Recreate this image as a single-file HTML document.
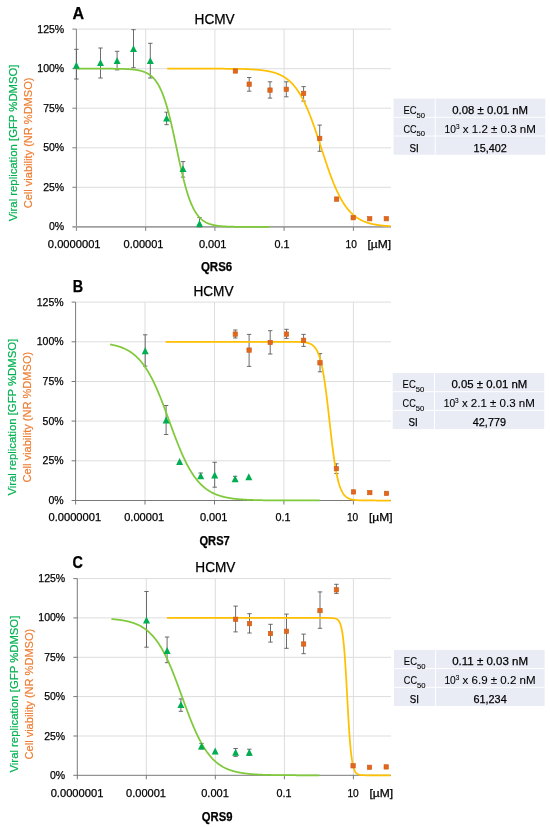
<!DOCTYPE html>
<html lang="en"><head><meta charset="utf-8"><title>HCMV dose-response QRS6 QRS7 QRS9</title>
<style>
html,body{margin:0;padding:0;background:#fff;}
svg{display:block;font-family:"Liberation Sans", sans-serif;}
</style></head><body>
<svg width="550" height="827" viewBox="0 0 550 827">
<rect width="550" height="827" fill="#ffffff"/>
<line x1="76.4" y1="187.3" x2="391.0" y2="187.3" stroke="#dddddd" stroke-width="1"/>
<line x1="76.4" y1="147.8" x2="391.0" y2="147.8" stroke="#dddddd" stroke-width="1"/>
<line x1="76.4" y1="108.2" x2="391.0" y2="108.2" stroke="#dddddd" stroke-width="1"/>
<line x1="76.4" y1="68.7" x2="391.0" y2="68.7" stroke="#dddddd" stroke-width="1"/>
<line x1="76.4" y1="29.1" x2="391.0" y2="29.1" stroke="#dddddd" stroke-width="1"/>
<line x1="145.7" y1="29.1" x2="145.7" y2="226.9" stroke="#dddddd" stroke-width="1"/>
<line x1="214.9" y1="29.1" x2="214.9" y2="226.9" stroke="#dddddd" stroke-width="1"/>
<line x1="284.1" y1="29.1" x2="284.1" y2="226.9" stroke="#dddddd" stroke-width="1"/>
<line x1="353.4" y1="29.1" x2="353.4" y2="226.9" stroke="#dddddd" stroke-width="1"/>
<line x1="76.4" y1="29.1" x2="76.4" y2="230.9" stroke="#808080" stroke-width="1.0"/>
<line x1="72.4" y1="226.9" x2="391.0" y2="226.9" stroke="#a0a0a0" stroke-width="1.6"/>
<line x1="72.4" y1="187.3" x2="76.4" y2="187.3" stroke="#808080" stroke-width="1.0"/>
<line x1="72.4" y1="147.8" x2="76.4" y2="147.8" stroke="#808080" stroke-width="1.0"/>
<line x1="72.4" y1="108.2" x2="76.4" y2="108.2" stroke="#808080" stroke-width="1.0"/>
<line x1="72.4" y1="68.7" x2="76.4" y2="68.7" stroke="#808080" stroke-width="1.0"/>
<line x1="72.4" y1="29.1" x2="76.4" y2="29.1" stroke="#808080" stroke-width="1.0"/>
<line x1="145.7" y1="226.9" x2="145.7" y2="230.9" stroke="#808080" stroke-width="1.0"/>
<line x1="214.9" y1="226.9" x2="214.9" y2="230.9" stroke="#808080" stroke-width="1.0"/>
<line x1="284.1" y1="226.9" x2="284.1" y2="230.9" stroke="#808080" stroke-width="1.0"/>
<line x1="353.4" y1="226.9" x2="353.4" y2="230.9" stroke="#808080" stroke-width="1.0"/>
<text x="64.2" y="230.4" font-size="11.1" text-anchor="end" fill="#000000" stroke="#000000" stroke-width="0.25" font-weight="normal" textLength="15.2" lengthAdjust="spacingAndGlyphs">0%</text>
<text x="64.2" y="190.8" font-size="11.1" text-anchor="end" fill="#000000" stroke="#000000" stroke-width="0.25" font-weight="normal" textLength="21.0" lengthAdjust="spacingAndGlyphs">25%</text>
<text x="64.2" y="151.3" font-size="11.1" text-anchor="end" fill="#000000" stroke="#000000" stroke-width="0.25" font-weight="normal" textLength="21.0" lengthAdjust="spacingAndGlyphs">50%</text>
<text x="64.2" y="111.7" font-size="11.1" text-anchor="end" fill="#000000" stroke="#000000" stroke-width="0.25" font-weight="normal" textLength="21.0" lengthAdjust="spacingAndGlyphs">75%</text>
<text x="64.2" y="72.2" font-size="11.1" text-anchor="end" fill="#000000" stroke="#000000" stroke-width="0.25" font-weight="normal" textLength="26.9" lengthAdjust="spacingAndGlyphs">100%</text>
<text x="64.2" y="32.6" font-size="11.1" text-anchor="end" fill="#000000" stroke="#000000" stroke-width="0.25" font-weight="normal" textLength="26.9" lengthAdjust="spacingAndGlyphs">125%</text>
<text x="74.2" y="248.2" font-size="10.8" text-anchor="middle" fill="#000000" stroke="#000000" stroke-width="0.25" font-weight="normal" textLength="52.7" lengthAdjust="spacingAndGlyphs">0.0000001</text>
<text x="143.5" y="248.2" font-size="10.8" text-anchor="middle" fill="#000000" stroke="#000000" stroke-width="0.25" font-weight="normal" textLength="40.0" lengthAdjust="spacingAndGlyphs">0.00001</text>
<text x="212.7" y="248.2" font-size="10.8" text-anchor="middle" fill="#000000" stroke="#000000" stroke-width="0.25" font-weight="normal" textLength="27.6" lengthAdjust="spacingAndGlyphs">0.001</text>
<text x="281.9" y="248.2" font-size="10.8" text-anchor="middle" fill="#000000" stroke="#000000" stroke-width="0.25" font-weight="normal" textLength="15.0" lengthAdjust="spacingAndGlyphs">0.1</text>
<text x="351.2" y="248.2" font-size="10.8" text-anchor="middle" fill="#000000" stroke="#000000" stroke-width="0.25" font-weight="normal" textLength="11.3" lengthAdjust="spacingAndGlyphs">10</text>
<text x="367.4" y="248.2" font-size="10.8" text-anchor="start" fill="#000000" stroke="#000000" stroke-width="0.25" font-weight="normal" textLength="23.6" lengthAdjust="spacingAndGlyphs">[µM]</text>
<path d="M76.4 49.3V79.0M74.2 49.3h4.4M74.2 79.0h4.4" stroke="#5c5c5c" stroke-width="0.9" fill="none"/>
<path d="M100.5 48.0V78.0M98.3 48.0h4.4M98.3 78.0h4.4" stroke="#5c5c5c" stroke-width="0.9" fill="none"/>
<path d="M117.1 51.3V69.9M114.9 51.3h4.4M114.9 69.9h4.4" stroke="#5c5c5c" stroke-width="0.9" fill="none"/>
<path d="M133.5 29.7V67.7M131.3 29.7h4.4M131.3 67.7h4.4" stroke="#5c5c5c" stroke-width="0.9" fill="none"/>
<path d="M150.3 43.3V78.0M148.1 43.3h4.4M148.1 78.0h4.4" stroke="#5c5c5c" stroke-width="0.9" fill="none"/>
<path d="M166.6 112.2V124.7M164.4 112.2h4.4M164.4 124.7h4.4" stroke="#5c5c5c" stroke-width="0.9" fill="none"/>
<path d="M183.0 161.6V177.1M180.8 161.6h4.4M180.8 177.1h4.4" stroke="#5c5c5c" stroke-width="0.9" fill="none"/>
<path d="M199.5 217.6V226.9M197.3 217.6h4.4M197.3 226.9h4.4" stroke="#5c5c5c" stroke-width="0.9" fill="none"/>
<path d="M249.2 77.5V91.2M247.0 77.5h4.4M247.0 91.2h4.4" stroke="#5c5c5c" stroke-width="0.9" fill="none"/>
<path d="M270.0 81.8V98.1M267.8 81.8h4.4M267.8 98.1h4.4" stroke="#5c5c5c" stroke-width="0.9" fill="none"/>
<path d="M286.3 81.8V96.8M284.1 81.8h4.4M284.1 96.8h4.4" stroke="#5c5c5c" stroke-width="0.9" fill="none"/>
<path d="M303.6 86.6V101.1M301.4 86.6h4.4M301.4 101.1h4.4" stroke="#5c5c5c" stroke-width="0.9" fill="none"/>
<path d="M319.7 125.1V151.3M317.5 125.1h4.4M317.5 151.3h4.4" stroke="#5c5c5c" stroke-width="0.9" fill="none"/>
<polyline points="76.40,68.66 76.90,68.66 77.40,68.66 77.90,68.66 78.40,68.66 78.90,68.66 79.40,68.66 79.91,68.66 80.41,68.66 80.91,68.66 81.41,68.66 81.91,68.66 82.41,68.66 82.91,68.66 83.41,68.66 83.91,68.66 84.41,68.66 84.91,68.66 85.41,68.66 85.91,68.66 86.42,68.66 86.92,68.66 87.42,68.66 87.92,68.66 88.42,68.66 88.92,68.66 89.42,68.66 89.92,68.66 90.42,68.67 90.92,68.67 91.42,68.67 91.92,68.67 92.42,68.67 92.93,68.67 93.43,68.67 93.93,68.67 94.43,68.67 94.93,68.67 95.43,68.67 95.93,68.67 96.43,68.67 96.93,68.67 97.43,68.67 97.93,68.67 98.43,68.67 98.93,68.67 99.44,68.68 99.94,68.68 100.44,68.68 100.94,68.68 101.44,68.68 101.94,68.68 102.44,68.68 102.94,68.68 103.44,68.69 103.94,68.69 104.44,68.69 104.94,68.69 105.45,68.69 105.95,68.69 106.45,68.70 106.95,68.70 107.45,68.70 107.95,68.70 108.45,68.71 108.95,68.71 109.45,68.71 109.95,68.71 110.45,68.72 110.95,68.72 111.45,68.73 111.96,68.73 112.46,68.73 112.96,68.74 113.46,68.74 113.96,68.75 114.46,68.75 114.96,68.76 115.46,68.77 115.96,68.77 116.46,68.78 116.96,68.79 117.46,68.79 117.96,68.80 118.47,68.81 118.97,68.82 119.47,68.83 119.97,68.84 120.47,68.85 120.97,68.87 121.47,68.88 121.97,68.89 122.47,68.91 122.97,68.92 123.47,68.94 123.97,68.95 124.47,68.97 124.98,68.99 125.48,69.01 125.98,69.03 126.48,69.06 126.98,69.08 127.48,69.11 127.98,69.13 128.48,69.16 128.98,69.19 129.48,69.23 129.98,69.26 130.48,69.30 130.98,69.34 131.49,69.38 131.99,69.42 132.49,69.47 132.99,69.52 133.49,69.57 133.99,69.63 134.49,69.69 134.99,69.75 135.49,69.82 135.99,69.89 136.49,69.97 136.99,70.05 137.49,70.13 138.00,70.22 138.50,70.32 139.00,70.42 139.50,70.52 140.00,70.64 140.50,70.76 141.00,70.89 141.50,71.02 142.00,71.17 142.50,71.32 143.00,71.48 143.50,71.65 144.00,71.83 144.51,72.02 145.01,72.23 145.51,72.44 146.01,72.67 146.51,72.91 147.01,73.17 147.51,73.43 148.01,73.72 148.51,74.02 149.01,74.34 149.51,74.68 150.01,75.04 150.52,75.41 151.02,75.81 151.52,76.23 152.02,76.68 152.52,77.15 153.02,77.64 153.52,78.16 154.02,78.71 154.52,79.29 155.02,79.90 155.52,80.54 156.02,81.22 156.52,81.93 157.03,82.68 157.53,83.46 158.03,84.28 158.53,85.15 159.03,86.06 159.53,87.01 160.03,88.00 160.53,89.04 161.03,90.13 161.53,91.27 162.03,92.45 162.53,93.69 163.03,94.98 163.54,96.32 164.04,97.72 164.54,99.17 165.04,100.67 165.54,102.23 166.04,103.84 166.54,105.51 167.04,107.23 167.54,109.00 168.04,110.83 168.54,112.71 169.04,114.64 169.54,116.62 170.05,118.65 170.55,120.72 171.05,122.84 171.55,124.99 172.05,127.19 172.55,129.41 173.05,131.67 173.55,133.96 174.05,136.27 174.55,138.60 175.05,140.95 175.55,143.30 176.05,145.67 176.56,148.04 177.06,150.41 177.56,152.78 178.06,155.14 178.56,157.48 179.06,159.81 179.56,162.11 180.06,164.39 180.56,166.64 181.06,168.86 181.56,171.05 182.06,173.20 182.56,175.30 183.07,177.36 183.57,179.38 184.07,181.35 184.57,183.27 185.07,185.14 185.57,186.95 186.07,188.72 186.57,190.43 187.07,192.08 187.57,193.68 188.07,195.23 188.57,196.72 189.07,198.16 189.58,199.54 190.08,200.87 190.58,202.15 191.08,203.37 191.58,204.55 192.08,205.67 192.58,206.75 193.08,207.78 193.58,208.77 194.08,209.71 194.58,210.61 195.08,211.46 195.58,212.28 196.09,213.05 196.59,213.79 197.09,214.49 197.59,215.16 198.09,215.80 198.59,216.40 199.09,216.97 199.59,217.52 200.09,218.03 200.59,218.52 201.09,218.98 201.59,219.42 202.10,219.84 202.60,220.23 203.10,220.60 203.60,220.96 204.10,221.29 204.60,221.61 205.10,221.90 205.60,222.19 206.10,222.45 206.60,222.70 207.10,222.94 207.60,223.17 208.10,223.38 208.61,223.58 209.11,223.77 209.61,223.95 210.11,224.12 210.61,224.28 211.11,224.43 211.61,224.57 212.11,224.70 212.61,224.83 213.11,224.95 213.61,225.06 214.11,225.17 214.61,225.27 215.12,225.36 215.62,225.45 216.12,225.53 216.62,225.61 217.12,225.69 217.62,225.76 218.12,225.82 218.62,225.88 219.12,225.94 219.62,226.00 220.12,226.05 220.62,226.10 221.12,226.15 221.63,226.19 222.13,226.23 222.63,226.27 223.13,226.31 223.63,226.34 224.13,226.37 224.63,226.40 225.13,226.43 225.63,226.46 226.13,226.49 226.63,226.51 227.13,226.53 227.63,226.55 228.14,226.57 228.64,226.59 229.14,226.61 229.64,226.63 230.14,226.64 230.64,226.66 231.14,226.67 231.64,226.69 232.14,226.70 232.64,226.71 233.14,226.72 233.64,226.73 234.14,226.74 234.65,226.75 235.15,226.76 235.65,226.77 236.15,226.77 236.65,226.78 237.15,226.79 237.65,226.80 238.15,226.80 238.65,226.81 239.15,226.81 239.65,226.82 240.15,226.82 240.65,226.83 241.16,226.83 241.66,226.84 242.16,226.84 242.66,226.84 243.16,226.85 243.66,226.85 244.16,226.85 244.66,226.85 245.16,226.86 245.66,226.86 246.16,226.86 246.66,226.86 247.17,226.87 247.67,226.87 248.17,226.87 248.67,226.87 249.17,226.87 249.67,226.88 250.17,226.88 250.67,226.88 251.17,226.88 251.67,226.88 252.17,226.88 252.67,226.88 253.17,226.88 253.68,226.88 254.18,226.89 254.68,226.89 255.18,226.89 255.68,226.89 256.18,226.89 256.68,226.89 257.18,226.89 257.68,226.89 258.18,226.89 258.68,226.89 259.18,226.89 259.68,226.89 260.19,226.89 260.69,226.89 261.19,226.89 261.69,226.89 262.19,226.89 262.69,226.89 263.19,226.90 263.69,226.90 264.19,226.90 264.69,226.90 265.19,226.90 265.69,226.90 266.19,226.90 266.70,226.90 267.20,226.90 267.70,226.90 268.20,226.90 268.70,226.90 269.20,226.90 269.70,226.90" fill="none" stroke="#7fc93a" stroke-width="1.75" stroke-linecap="butt" stroke-linejoin="round"/>
<polyline points="167.20,68.66 167.70,68.66 168.20,68.66 168.70,68.66 169.20,68.66 169.70,68.66 170.21,68.66 170.71,68.66 171.21,68.66 171.71,68.66 172.21,68.66 172.71,68.66 173.21,68.66 173.71,68.66 174.21,68.66 174.71,68.66 175.21,68.66 175.72,68.66 176.22,68.66 176.72,68.66 177.22,68.66 177.72,68.66 178.22,68.66 178.72,68.66 179.22,68.66 179.72,68.66 180.22,68.66 180.72,68.66 181.23,68.66 181.73,68.66 182.23,68.66 182.73,68.66 183.23,68.66 183.73,68.66 184.23,68.66 184.73,68.66 185.23,68.66 185.73,68.66 186.23,68.66 186.73,68.66 187.24,68.66 187.74,68.66 188.24,68.67 188.74,68.67 189.24,68.67 189.74,68.67 190.24,68.67 190.74,68.67 191.24,68.67 191.74,68.67 192.24,68.67 192.75,68.67 193.25,68.67 193.75,68.67 194.25,68.67 194.75,68.67 195.25,68.67 195.75,68.67 196.25,68.67 196.75,68.67 197.25,68.67 197.75,68.67 198.26,68.67 198.76,68.67 199.26,68.67 199.76,68.67 200.26,68.67 200.76,68.67 201.26,68.67 201.76,68.67 202.26,68.68 202.76,68.68 203.26,68.68 203.77,68.68 204.27,68.68 204.77,68.68 205.27,68.68 205.77,68.68 206.27,68.68 206.77,68.68 207.27,68.68 207.77,68.68 208.27,68.68 208.77,68.69 209.28,68.69 209.78,68.69 210.28,68.69 210.78,68.69 211.28,68.69 211.78,68.69 212.28,68.69 212.78,68.69 213.28,68.70 213.78,68.70 214.28,68.70 214.79,68.70 215.29,68.70 215.79,68.70 216.29,68.71 216.79,68.71 217.29,68.71 217.79,68.71 218.29,68.71 218.79,68.71 219.29,68.72 219.79,68.72 220.30,68.72 220.80,68.72 221.30,68.73 221.80,68.73 222.30,68.73 222.80,68.73 223.30,68.74 223.80,68.74 224.30,68.74 224.80,68.75 225.30,68.75 225.80,68.75 226.31,68.76 226.81,68.76 227.31,68.77 227.81,68.77 228.31,68.77 228.81,68.78 229.31,68.78 229.81,68.79 230.31,68.79 230.81,68.80 231.31,68.81 231.82,68.81 232.32,68.82 232.82,68.82 233.32,68.83 233.82,68.84 234.32,68.84 234.82,68.85 235.32,68.86 235.82,68.87 236.32,68.87 236.82,68.88 237.33,68.89 237.83,68.90 238.33,68.91 238.83,68.92 239.33,68.93 239.83,68.94 240.33,68.95 240.83,68.96 241.33,68.98 241.83,68.99 242.33,69.00 242.84,69.02 243.34,69.03 243.84,69.04 244.34,69.06 244.84,69.07 245.34,69.09 245.84,69.11 246.34,69.13 246.84,69.14 247.34,69.16 247.84,69.18 248.35,69.20 248.85,69.23 249.35,69.25 249.85,69.27 250.35,69.30 250.85,69.32 251.35,69.35 251.85,69.37 252.35,69.40 252.85,69.43 253.35,69.46 253.86,69.49 254.36,69.53 254.86,69.56 255.36,69.60 255.86,69.63 256.36,69.67 256.86,69.71 257.36,69.75 257.86,69.80 258.36,69.84 258.86,69.89 259.37,69.94 259.87,69.99 260.37,70.04 260.87,70.09 261.37,70.15 261.87,70.21 262.37,70.27 262.87,70.33 263.37,70.40 263.87,70.47 264.37,70.54 264.87,70.61 265.38,70.69 265.88,70.77 266.38,70.85 266.88,70.94 267.38,71.03 267.88,71.12 268.38,71.22 268.88,71.32 269.38,71.42 269.88,71.53 270.38,71.64 270.89,71.75 271.39,71.87 271.89,72.00 272.39,72.13 272.89,72.26 273.39,72.40 273.89,72.55 274.39,72.70 274.89,72.86 275.39,73.02 275.89,73.19 276.40,73.36 276.90,73.54 277.40,73.73 277.90,73.93 278.40,74.13 278.90,74.34 279.40,74.55 279.90,74.78 280.40,75.01 280.90,75.25 281.40,75.51 281.91,75.77 282.41,76.03 282.91,76.31 283.41,76.60 283.91,76.90 284.41,77.21 284.91,77.53 285.41,77.86 285.91,78.21 286.41,78.56 286.91,78.93 287.42,79.31 287.92,79.71 288.42,80.11 288.92,80.53 289.42,80.97 289.92,81.42 290.42,81.88 290.92,82.36 291.42,82.86 291.92,83.37 292.42,83.90 292.93,84.45 293.43,85.01 293.93,85.59 294.43,86.19 294.93,86.80 295.43,87.44 295.93,88.09 296.43,88.77 296.93,89.46 297.43,90.18 297.93,90.91 298.43,91.67 298.94,92.44 299.44,93.24 299.94,94.06 300.44,94.90 300.94,95.77 301.44,96.65 301.94,97.56 302.44,98.50 302.94,99.45 303.44,100.43 303.94,101.43 304.45,102.45 304.95,103.50 305.45,104.57 305.95,105.67 306.45,106.78 306.95,107.92 307.45,109.08 307.95,110.27 308.45,111.47 308.95,112.70 309.45,113.95 309.96,115.22 310.46,116.51 310.96,117.82 311.46,119.15 311.96,120.50 312.46,121.87 312.96,123.25 313.46,124.66 313.96,126.07 314.46,127.51 314.96,128.96 315.47,130.42 315.97,131.89 316.47,133.38 316.97,134.87 317.47,136.38 317.97,137.89 318.47,139.41 318.97,140.94 319.47,142.47 319.97,144.01 320.47,145.55 320.98,147.09 321.48,148.63 321.98,150.17 322.48,151.71 322.98,153.25 323.48,154.78 323.98,156.31 324.48,157.83 324.98,159.34 325.48,160.84 325.98,162.34 326.49,163.82 326.99,165.29 327.49,166.75 327.99,168.20 328.49,169.63 328.99,171.05 329.49,172.45 329.99,173.83 330.49,175.20 330.99,176.55 331.49,177.87 332.00,179.18 332.50,180.47 333.00,181.74 333.50,182.99 334.00,184.21 334.50,185.42 335.00,186.60 335.50,187.76 336.00,188.89 336.50,190.01 337.00,191.10 337.50,192.17 338.01,193.21 338.51,194.23 339.01,195.23 339.51,196.21 340.01,197.16 340.51,198.09 341.01,199.00 341.51,199.88 342.01,200.74 342.51,201.58 343.01,202.40 343.52,203.20 344.02,203.97 344.52,204.73 345.02,205.46 345.52,206.17 346.02,206.86 346.52,207.54 347.02,208.19 347.52,208.82 348.02,209.44 348.52,210.03 349.03,210.61 349.53,211.17 350.03,211.72 350.53,212.24 351.03,212.75 351.53,213.25 352.03,213.72 352.53,214.19 353.03,214.64 353.53,215.07 354.03,215.49 354.54,215.90 355.04,216.29 355.54,216.67 356.04,217.03 356.54,217.39 357.04,217.73 357.54,218.06 358.04,218.38 358.54,218.69 359.04,218.99 359.54,219.28 360.05,219.55 360.55,219.82 361.05,220.08 361.55,220.33 362.05,220.57 362.55,220.80 363.05,221.03 363.55,221.25 364.05,221.45 364.55,221.66 365.05,221.85 365.56,222.04 366.06,222.22 366.56,222.39 367.06,222.56 367.56,222.72 368.06,222.88 368.56,223.03 369.06,223.17 369.56,223.31 370.06,223.44 370.56,223.57 371.07,223.70 371.57,223.82 372.07,223.93 372.57,224.04 373.07,224.15 373.57,224.26 374.07,224.35 374.57,224.45 375.07,224.54 375.57,224.63 376.07,224.72 376.57,224.80 377.08,224.88 377.58,224.95 378.08,225.03 378.58,225.10 379.08,225.17 379.58,225.23 380.08,225.30 380.58,225.36 381.08,225.41 381.58,225.47 382.08,225.53 382.59,225.58 383.09,225.63 383.59,225.68 384.09,225.72 384.59,225.77 385.09,225.81 385.59,225.85 386.09,225.89 386.59,225.93 387.09,225.97 387.59,226.00 388.10,226.04 388.60,226.07 389.10,226.10 389.60,226.13 390.10,226.16 390.60,226.19" fill="none" stroke="#ffc000" stroke-width="1.75" stroke-linecap="butt" stroke-linejoin="round"/>
<path d="M76.4 61.8L79.9 68.7H72.9Z" fill="#00ad50"/>
<path d="M100.5 59.2L104.0 66.1H97.0Z" fill="#00ad50"/>
<path d="M117.1 57.2L120.6 64.1H113.6Z" fill="#00ad50"/>
<path d="M133.5 45.2L137.0 52.1H130.0Z" fill="#00ad50"/>
<path d="M150.3 57.2L153.8 64.1H146.8Z" fill="#00ad50"/>
<path d="M166.6 114.7L170.1 121.6H163.1Z" fill="#00ad50"/>
<path d="M183.0 165.2L186.5 172.1H179.5Z" fill="#00ad50"/>
<path d="M199.5 220.1L203.0 227.0H196.0Z" fill="#00ad50"/>
<rect x="233.2" y="68.8" width="4.4" height="4.4" fill="#e2661b" stroke="#cc5c18" stroke-width="0.6"/>
<rect x="247.0" y="82.0" width="4.4" height="4.4" fill="#e2661b" stroke="#cc5c18" stroke-width="0.6"/>
<rect x="267.8" y="87.9" width="4.4" height="4.4" fill="#e2661b" stroke="#cc5c18" stroke-width="0.6"/>
<rect x="284.1" y="87.1" width="4.4" height="4.4" fill="#e2661b" stroke="#cc5c18" stroke-width="0.6"/>
<rect x="301.4" y="91.2" width="4.4" height="4.4" fill="#e2661b" stroke="#cc5c18" stroke-width="0.6"/>
<rect x="317.5" y="136.2" width="4.4" height="4.4" fill="#e2661b" stroke="#cc5c18" stroke-width="0.6"/>
<rect x="334.4" y="196.9" width="4.4" height="4.4" fill="#e2661b" stroke="#cc5c18" stroke-width="0.6"/>
<rect x="351.0" y="215.5" width="4.4" height="4.4" fill="#e2661b" stroke="#cc5c18" stroke-width="0.6"/>
<rect x="367.5" y="216.5" width="4.4" height="4.4" fill="#e2661b" stroke="#cc5c18" stroke-width="0.6"/>
<rect x="384.1" y="216.5" width="4.4" height="4.4" fill="#e2661b" stroke="#cc5c18" stroke-width="0.6"/>
<text x="194.6" y="23.8" font-size="13.8" text-anchor="start" fill="#000000" stroke="#000000" stroke-width="0.25" font-weight="normal" textLength="40.1" lengthAdjust="spacingAndGlyphs">HCMV</text>
<text x="72.5" y="18.5" font-size="16.2" text-anchor="start" fill="#000000" stroke="#000000" stroke-width="0.25" font-weight="bold" textLength="11.6" lengthAdjust="spacingAndGlyphs">A</text>
<text x="200.9" y="271.1" font-size="12.7" text-anchor="start" fill="#000000" stroke="#000000" stroke-width="0.25" font-weight="bold" textLength="31.3" lengthAdjust="spacingAndGlyphs">QRS6</text>
<text transform="translate(16.7 142.9) rotate(-90)" font-size="11" text-anchor="middle" fill="#00b050" stroke="#00b050" stroke-width="0.2" textLength="156.8" lengthAdjust="spacingAndGlyphs">Viral replication [GFP %DMSO]</text>
<text transform="translate(31.8 142.9) rotate(-90)" font-size="11" text-anchor="middle" fill="#ed7d31" stroke="#ed7d31" stroke-width="0.2" textLength="130.7" lengthAdjust="spacingAndGlyphs">Cell viability (NR %DMSO)</text>
<rect x="393.6" y="98.6" width="151.7" height="56.1" fill="#e9ebf5"/>
<path d="M393.6 117.3H545.3M393.6 136.0H545.3M435.2 98.6V154.7" stroke="#ffffff" stroke-width="1" fill="none"/>
<text x="403.4" y="113.9" font-size="11.5" fill="#000000" stroke="#000000" stroke-width="0.1"><tspan textLength="13.2" lengthAdjust="spacingAndGlyphs">EC</tspan><tspan dy="3.7" font-size="8" textLength="8.5" lengthAdjust="spacingAndGlyphs">50</tspan></text>
<text x="403.4" y="132.7" font-size="11.5" fill="#000000" stroke="#000000" stroke-width="0.1"><tspan textLength="13.2" lengthAdjust="spacingAndGlyphs">CC</tspan><tspan dy="3.7" font-size="8" textLength="8.5" lengthAdjust="spacingAndGlyphs">50</tspan></text>
<text x="414.0" y="152.0" font-size="11.5" text-anchor="middle" fill="#000000" stroke="#000000" stroke-width="0.25" font-weight="normal" textLength="9.2" lengthAdjust="spacingAndGlyphs">SI</text>
<text x="490.2" y="113.9" font-size="11.5" text-anchor="middle" fill="#000000" stroke="#000000" stroke-width="0.25" font-weight="normal" textLength="75.8" lengthAdjust="spacingAndGlyphs">0.08 ± 0.01 nM</text>
<text x="444.6" y="132.7" font-size="11.5" fill="#000000" stroke="#000000" stroke-width="0.1"><tspan textLength="11.4" lengthAdjust="spacingAndGlyphs">10</tspan><tspan dy="-4.2" font-size="6.6" textLength="3.6" lengthAdjust="spacingAndGlyphs">3</tspan><tspan dy="4.2" textLength="76.2" lengthAdjust="spacingAndGlyphs"> x 1.2 ± 0.3 nM</tspan></text>
<text x="490.2" y="152.0" font-size="11.5" text-anchor="middle" fill="#000000" stroke="#000000" stroke-width="0.25" font-weight="normal" textLength="33.2" lengthAdjust="spacingAndGlyphs">15,402</text>
<line x1="75.6" y1="460.8" x2="391.0" y2="460.8" stroke="#dddddd" stroke-width="1"/>
<line x1="75.6" y1="421.1" x2="391.0" y2="421.1" stroke="#dddddd" stroke-width="1"/>
<line x1="75.6" y1="381.5" x2="391.0" y2="381.5" stroke="#dddddd" stroke-width="1"/>
<line x1="75.6" y1="341.8" x2="391.0" y2="341.8" stroke="#dddddd" stroke-width="1"/>
<line x1="75.6" y1="302.1" x2="391.0" y2="302.1" stroke="#dddddd" stroke-width="1"/>
<line x1="145.0" y1="302.1" x2="145.0" y2="500.5" stroke="#dddddd" stroke-width="1"/>
<line x1="214.5" y1="302.1" x2="214.5" y2="500.5" stroke="#dddddd" stroke-width="1"/>
<line x1="283.9" y1="302.1" x2="283.9" y2="500.5" stroke="#dddddd" stroke-width="1"/>
<line x1="353.4" y1="302.1" x2="353.4" y2="500.5" stroke="#dddddd" stroke-width="1"/>
<line x1="75.6" y1="302.1" x2="75.6" y2="504.5" stroke="#6a6a6a" stroke-width="0.9"/>
<line x1="71.6" y1="500.5" x2="391.0" y2="500.5" stroke="#6a6a6a" stroke-width="0.9"/>
<line x1="71.6" y1="460.8" x2="75.6" y2="460.8" stroke="#6a6a6a" stroke-width="0.9"/>
<line x1="71.6" y1="421.1" x2="75.6" y2="421.1" stroke="#6a6a6a" stroke-width="0.9"/>
<line x1="71.6" y1="381.5" x2="75.6" y2="381.5" stroke="#6a6a6a" stroke-width="0.9"/>
<line x1="71.6" y1="341.8" x2="75.6" y2="341.8" stroke="#6a6a6a" stroke-width="0.9"/>
<line x1="71.6" y1="302.1" x2="75.6" y2="302.1" stroke="#6a6a6a" stroke-width="0.9"/>
<line x1="145.0" y1="500.5" x2="145.0" y2="504.5" stroke="#6a6a6a" stroke-width="0.9"/>
<line x1="214.5" y1="500.5" x2="214.5" y2="504.5" stroke="#6a6a6a" stroke-width="0.9"/>
<line x1="283.9" y1="500.5" x2="283.9" y2="504.5" stroke="#6a6a6a" stroke-width="0.9"/>
<line x1="353.4" y1="500.5" x2="353.4" y2="504.5" stroke="#6a6a6a" stroke-width="0.9"/>
<text x="63.6" y="504.0" font-size="11.1" text-anchor="end" fill="#000000" stroke="#000000" stroke-width="0.25" font-weight="normal" textLength="15.2" lengthAdjust="spacingAndGlyphs">0%</text>
<text x="63.6" y="464.3" font-size="11.1" text-anchor="end" fill="#000000" stroke="#000000" stroke-width="0.25" font-weight="normal" textLength="21.0" lengthAdjust="spacingAndGlyphs">25%</text>
<text x="63.6" y="424.6" font-size="11.1" text-anchor="end" fill="#000000" stroke="#000000" stroke-width="0.25" font-weight="normal" textLength="21.0" lengthAdjust="spacingAndGlyphs">50%</text>
<text x="63.6" y="385.0" font-size="11.1" text-anchor="end" fill="#000000" stroke="#000000" stroke-width="0.25" font-weight="normal" textLength="21.0" lengthAdjust="spacingAndGlyphs">75%</text>
<text x="63.6" y="345.3" font-size="11.1" text-anchor="end" fill="#000000" stroke="#000000" stroke-width="0.25" font-weight="normal" textLength="26.9" lengthAdjust="spacingAndGlyphs">100%</text>
<text x="63.6" y="305.6" font-size="11.1" text-anchor="end" fill="#000000" stroke="#000000" stroke-width="0.25" font-weight="normal" textLength="26.9" lengthAdjust="spacingAndGlyphs">125%</text>
<text x="74.8" y="520.7" font-size="10.8" text-anchor="middle" fill="#000000" stroke="#000000" stroke-width="0.25" font-weight="normal" textLength="52.7" lengthAdjust="spacingAndGlyphs">0.0000001</text>
<text x="144.2" y="520.7" font-size="10.8" text-anchor="middle" fill="#000000" stroke="#000000" stroke-width="0.25" font-weight="normal" textLength="40.0" lengthAdjust="spacingAndGlyphs">0.00001</text>
<text x="213.7" y="520.7" font-size="10.8" text-anchor="middle" fill="#000000" stroke="#000000" stroke-width="0.25" font-weight="normal" textLength="27.6" lengthAdjust="spacingAndGlyphs">0.001</text>
<text x="283.1" y="520.7" font-size="10.8" text-anchor="middle" fill="#000000" stroke="#000000" stroke-width="0.25" font-weight="normal" textLength="15.0" lengthAdjust="spacingAndGlyphs">0.1</text>
<text x="352.6" y="520.7" font-size="10.8" text-anchor="middle" fill="#000000" stroke="#000000" stroke-width="0.25" font-weight="normal" textLength="11.3" lengthAdjust="spacingAndGlyphs">10</text>
<text x="368.9" y="520.7" font-size="10.8" text-anchor="start" fill="#000000" stroke="#000000" stroke-width="0.25" font-weight="normal" textLength="23.6" lengthAdjust="spacingAndGlyphs">[µM]</text>
<path d="M145.2 334.8V366.1M143.0 334.8h4.4M143.0 366.1h4.4" stroke="#5c5c5c" stroke-width="0.9" fill="none"/>
<path d="M166.1 405.5V434.5M163.9 405.5h4.4M163.9 434.5h4.4" stroke="#5c5c5c" stroke-width="0.9" fill="none"/>
<path d="M200.7 473.0V478.0M198.5 473.0h4.4M198.5 478.0h4.4" stroke="#5c5c5c" stroke-width="0.9" fill="none"/>
<path d="M214.7 462.3V487.2M212.5 462.3h4.4M212.5 487.2h4.4" stroke="#5c5c5c" stroke-width="0.9" fill="none"/>
<path d="M235.1 476.3V481.0M232.9 476.3h4.4M232.9 481.0h4.4" stroke="#5c5c5c" stroke-width="0.9" fill="none"/>
<path d="M235.3 330.0V338.0M233.1 330.0h4.4M233.1 338.0h4.4" stroke="#5c5c5c" stroke-width="0.9" fill="none"/>
<path d="M249.1 334.4V366.4M246.9 334.4h4.4M246.9 366.4h4.4" stroke="#5c5c5c" stroke-width="0.9" fill="none"/>
<path d="M270.2 330.7V354.0M268.0 330.7h4.4M268.0 354.0h4.4" stroke="#5c5c5c" stroke-width="0.9" fill="none"/>
<path d="M286.5 329.3V338.4M284.3 329.3h4.4M284.3 338.4h4.4" stroke="#5c5c5c" stroke-width="0.9" fill="none"/>
<path d="M303.6 334.4V346.4M301.4 334.4h4.4M301.4 346.4h4.4" stroke="#5c5c5c" stroke-width="0.9" fill="none"/>
<path d="M320.0 353.6V371.8M317.8 353.6h4.4M317.8 371.8h4.4" stroke="#5c5c5c" stroke-width="0.9" fill="none"/>
<path d="M336.4 463.8V473.6M334.2 463.8h4.4M334.2 473.6h4.4" stroke="#5c5c5c" stroke-width="0.9" fill="none"/>
<polyline points="110.10,344.41 110.60,344.50 111.10,344.60 111.60,344.69 112.10,344.79 112.60,344.90 113.10,345.01 113.60,345.12 114.10,345.23 114.60,345.35 115.10,345.47 115.60,345.60 116.10,345.73 116.60,345.86 117.10,346.00 117.60,346.15 118.10,346.30 118.60,346.45 119.10,346.61 119.60,346.77 120.10,346.94 120.60,347.12 121.10,347.30 121.60,347.48 122.10,347.68 122.60,347.88 123.10,348.08 123.60,348.29 124.10,348.51 124.60,348.74 125.10,348.97 125.60,349.21 126.10,349.46 126.60,349.71 127.10,349.98 127.60,350.25 128.10,350.53 128.60,350.82 129.10,351.12 129.60,351.43 130.10,351.74 130.60,352.07 131.10,352.41 131.60,352.76 132.10,353.11 132.60,353.48 133.10,353.86 133.60,354.25 134.10,354.65 134.60,355.07 135.10,355.49 135.60,355.93 136.10,356.38 136.60,356.84 137.10,357.32 137.60,357.81 138.10,358.32 138.60,358.83 139.10,359.37 139.60,359.91 140.10,360.47 140.60,361.05 141.10,361.64 141.60,362.25 142.10,362.87 142.60,363.51 143.10,364.16 143.60,364.83 144.10,365.52 144.60,366.23 145.10,366.95 145.60,367.69 146.10,368.44 146.60,369.22 147.10,370.01 147.60,370.82 148.10,371.65 148.60,372.49 149.10,373.35 149.60,374.23 150.10,375.13 150.60,376.05 151.10,376.99 151.60,377.94 152.10,378.91 152.60,379.90 153.10,380.91 153.60,381.94 154.10,382.98 154.60,384.04 155.10,385.12 155.60,386.21 156.10,387.32 156.60,388.45 157.10,389.60 157.60,390.75 158.10,391.93 158.60,393.12 159.10,394.33 159.60,395.54 160.10,396.78 160.60,398.02 161.10,399.28 161.60,400.55 162.10,401.83 162.60,403.13 163.10,404.43 163.60,405.74 164.10,407.06 164.60,408.39 165.10,409.73 165.60,411.07 166.10,412.42 166.60,413.77 167.10,415.13 167.60,416.49 168.10,417.86 168.60,419.22 169.10,420.59 169.60,421.96 170.10,423.33 170.60,424.69 171.10,426.06 171.60,427.42 172.10,428.78 172.60,430.13 173.10,431.48 173.60,432.82 174.10,434.16 174.60,435.48 175.10,436.80 175.60,438.11 176.10,439.41 176.60,440.70 177.10,441.98 177.60,443.25 178.10,444.51 178.60,445.75 179.10,446.98 179.60,448.20 180.10,449.40 180.60,450.59 181.10,451.76 181.60,452.91 182.10,454.06 182.60,455.18 183.10,456.29 183.60,457.38 184.10,458.45 184.60,459.51 185.10,460.55 185.60,461.57 186.10,462.58 186.60,463.56 187.10,464.53 187.60,465.48 188.10,466.41 188.60,467.33 189.10,468.22 189.60,469.10 190.10,469.96 190.60,470.80 191.10,471.62 191.60,472.43 192.10,473.22 192.60,473.99 193.10,474.74 193.60,475.48 194.10,476.19 194.60,476.90 195.10,477.58 195.60,478.25 196.10,478.90 196.60,479.54 197.10,480.15 197.60,480.76 198.10,481.35 198.60,481.92 199.10,482.48 199.60,483.02 200.10,483.55 200.60,484.07 201.10,484.57 201.60,485.05 202.10,485.53 202.60,485.99 203.10,486.44 203.60,486.87 204.10,487.30 204.60,487.71 205.10,488.11 205.60,488.50 206.10,488.87 206.60,489.24 207.10,489.60 207.60,489.94 208.10,490.27 208.60,490.60 209.10,490.92 209.60,491.22 210.10,491.52 210.60,491.81 211.10,492.08 211.60,492.36 212.10,492.62 212.60,492.87 213.10,493.12 213.60,493.36 214.10,493.59 214.60,493.81 215.10,494.03 215.60,494.24 216.10,494.45 216.60,494.64 217.10,494.83 217.60,495.02 218.10,495.20 218.60,495.37 219.10,495.54 219.60,495.70 220.10,495.86 220.60,496.01 221.10,496.16 221.60,496.31 222.10,496.44 222.60,496.58 223.10,496.71 223.60,496.83 224.10,496.96 224.60,497.07 225.10,497.19 225.60,497.30 226.10,497.40 226.60,497.51 227.10,497.61 227.60,497.70 228.10,497.80 228.60,497.89 229.10,497.97 229.60,498.06 230.10,498.14 230.60,498.22 231.10,498.29 231.60,498.37 232.10,498.44 232.60,498.51 233.10,498.57 233.60,498.64 234.10,498.70 234.60,498.76 235.10,498.82 235.60,498.88 236.10,498.93 236.60,498.98 237.10,499.03 237.60,499.08 238.10,499.13 238.60,499.18 239.10,499.22 239.60,499.26 240.10,499.31 240.60,499.35 241.10,499.39 241.60,499.42 242.10,499.46 242.60,499.49 243.10,499.53 243.60,499.56 244.10,499.59 244.60,499.62 245.10,499.65 245.60,499.68 246.10,499.71 246.60,499.74 247.10,499.76 247.60,499.79 248.10,499.81 248.60,499.83 249.10,499.86 249.60,499.88 250.10,499.90 250.60,499.92 251.10,499.94 251.60,499.96 252.10,499.98 252.60,499.99 253.10,500.01 253.60,500.03 254.10,500.04 254.60,500.06 255.10,500.07 255.60,500.09 256.10,500.10 256.60,500.12 257.10,500.13 257.60,500.14 258.10,500.15 258.60,500.16 259.10,500.18 259.60,500.19 260.10,500.20 260.60,500.21 261.10,500.22 261.60,500.23 262.10,500.24 262.60,500.25 263.10,500.25 263.60,500.26 264.10,500.27 264.60,500.28 265.10,500.29 265.60,500.29 266.10,500.30 266.60,500.31 267.10,500.31 267.60,500.32 268.10,500.33 268.60,500.33 269.10,500.34 269.60,500.34 270.10,500.35 270.60,500.35 271.10,500.36 271.60,500.36 272.10,500.37 272.60,500.37 273.10,500.38 273.60,500.38 274.10,500.38 274.60,500.39 275.10,500.39 275.60,500.40 276.10,500.40 276.60,500.40 277.10,500.41 277.60,500.41 278.10,500.41 278.60,500.42 279.10,500.42 279.60,500.42 280.10,500.42 280.60,500.43 281.10,500.43 281.60,500.43 282.10,500.43 282.60,500.44 283.10,500.44 283.60,500.44 284.10,500.44 284.60,500.44 285.10,500.45 285.60,500.45 286.10,500.45 286.60,500.45 287.10,500.45 287.60,500.45 288.10,500.46 288.60,500.46 289.10,500.46 289.60,500.46 290.10,500.46 290.60,500.46 291.10,500.46 291.60,500.47 292.10,500.47 292.60,500.47 293.10,500.47 293.60,500.47 294.10,500.47 294.60,500.47 295.10,500.47 295.60,500.47 296.10,500.47 296.60,500.48 297.10,500.48 297.60,500.48 298.10,500.48 298.60,500.48 299.10,500.48 299.60,500.48 300.10,500.48 300.60,500.48 301.10,500.48 301.60,500.48 302.10,500.48 302.60,500.48 303.10,500.48 303.60,500.48 304.10,500.49 304.60,500.49 305.10,500.49 305.60,500.49 306.10,500.49 306.60,500.49 307.10,500.49 307.60,500.49 308.10,500.49 308.60,500.49 309.10,500.49 309.60,500.49 310.10,500.49 310.60,500.49 311.10,500.49 311.60,500.49 312.10,500.49 312.60,500.49 313.10,500.49 313.60,500.49 314.10,500.49 314.60,500.49 315.10,500.49 315.60,500.49 316.10,500.49 316.60,500.49 317.10,500.49 317.60,500.49 318.10,500.49 318.60,500.49 319.10,500.49 319.60,500.49" fill="none" stroke="#7fc93a" stroke-width="1.75" stroke-linecap="butt" stroke-linejoin="round"/>
<polyline points="165.60,341.78 166.10,341.78 166.60,341.78 167.10,341.78 167.60,341.78 168.10,341.78 168.60,341.78 169.10,341.78 169.60,341.78 170.10,341.78 170.60,341.78 171.10,341.78 171.60,341.78 172.10,341.78 172.60,341.78 173.10,341.78 173.60,341.78 174.10,341.78 174.60,341.78 175.10,341.78 175.60,341.78 176.10,341.78 176.60,341.78 177.10,341.78 177.60,341.78 178.10,341.78 178.60,341.78 179.10,341.78 179.60,341.78 180.10,341.78 180.60,341.78 181.10,341.78 181.60,341.78 182.10,341.78 182.60,341.78 183.10,341.78 183.60,341.78 184.10,341.78 184.60,341.78 185.10,341.78 185.60,341.78 186.10,341.78 186.60,341.78 187.10,341.78 187.60,341.78 188.10,341.78 188.60,341.78 189.10,341.78 189.60,341.78 190.10,341.78 190.60,341.78 191.10,341.78 191.60,341.78 192.10,341.78 192.60,341.78 193.10,341.78 193.60,341.78 194.10,341.78 194.60,341.78 195.10,341.78 195.60,341.78 196.10,341.78 196.60,341.78 197.10,341.78 197.60,341.78 198.10,341.78 198.60,341.78 199.10,341.78 199.60,341.78 200.10,341.78 200.60,341.78 201.10,341.78 201.60,341.78 202.10,341.78 202.60,341.78 203.10,341.78 203.60,341.78 204.10,341.78 204.60,341.78 205.10,341.78 205.60,341.78 206.10,341.78 206.60,341.78 207.10,341.78 207.60,341.78 208.10,341.78 208.60,341.78 209.10,341.78 209.60,341.78 210.10,341.78 210.60,341.78 211.10,341.78 211.60,341.78 212.10,341.78 212.60,341.78 213.10,341.78 213.60,341.78 214.10,341.78 214.60,341.78 215.10,341.78 215.60,341.78 216.10,341.78 216.60,341.78 217.10,341.78 217.60,341.78 218.10,341.78 218.60,341.78 219.10,341.78 219.60,341.78 220.10,341.78 220.60,341.78 221.10,341.78 221.60,341.78 222.10,341.78 222.60,341.78 223.10,341.78 223.60,341.78 224.10,341.78 224.60,341.78 225.10,341.78 225.60,341.78 226.10,341.78 226.60,341.78 227.10,341.78 227.60,341.78 228.10,341.78 228.60,341.78 229.10,341.78 229.60,341.78 230.10,341.78 230.60,341.78 231.10,341.78 231.60,341.78 232.10,341.78 232.60,341.78 233.10,341.78 233.60,341.78 234.10,341.78 234.60,341.78 235.10,341.78 235.60,341.78 236.10,341.78 236.60,341.78 237.10,341.78 237.60,341.78 238.10,341.78 238.60,341.78 239.10,341.78 239.60,341.78 240.10,341.78 240.60,341.78 241.10,341.78 241.60,341.78 242.10,341.78 242.60,341.78 243.10,341.78 243.60,341.78 244.10,341.78 244.60,341.78 245.10,341.78 245.60,341.78 246.10,341.78 246.60,341.78 247.10,341.78 247.60,341.78 248.10,341.78 248.60,341.78 249.10,341.78 249.60,341.78 250.10,341.78 250.60,341.78 251.10,341.78 251.60,341.78 252.10,341.78 252.60,341.78 253.10,341.78 253.60,341.78 254.10,341.78 254.60,341.78 255.10,341.78 255.60,341.78 256.10,341.78 256.60,341.78 257.10,341.78 257.60,341.78 258.10,341.78 258.60,341.78 259.10,341.78 259.60,341.78 260.10,341.78 260.60,341.78 261.10,341.78 261.60,341.78 262.10,341.78 262.60,341.78 263.10,341.78 263.60,341.78 264.10,341.78 264.60,341.78 265.10,341.78 265.60,341.78 266.10,341.78 266.60,341.78 267.10,341.78 267.60,341.78 268.10,341.78 268.60,341.78 269.10,341.78 269.60,341.78 270.10,341.78 270.60,341.78 271.10,341.78 271.60,341.78 272.10,341.78 272.60,341.78 273.10,341.78 273.60,341.78 274.10,341.78 274.60,341.78 275.10,341.78 275.60,341.78 276.10,341.78 276.60,341.78 277.10,341.78 277.60,341.78 278.10,341.78 278.60,341.78 279.10,341.78 279.60,341.78 280.10,341.78 280.60,341.78 281.10,341.78 281.60,341.78 282.10,341.78 282.60,341.78 283.10,341.78 283.60,341.79 284.10,341.79 284.60,341.79 285.10,341.79 285.60,341.79 286.10,341.79 286.60,341.79 287.10,341.79 287.60,341.79 288.10,341.79 288.60,341.80 289.10,341.80 289.60,341.80 290.10,341.80 290.60,341.80 291.10,341.81 291.60,341.81 292.10,341.81 292.60,341.82 293.10,341.82 293.60,341.83 294.10,341.83 294.60,341.84 295.10,341.85 295.60,341.86 296.10,341.87 296.60,341.88 297.10,341.89 297.60,341.90 298.10,341.91 298.60,341.93 299.10,341.95 299.60,341.97 300.10,341.99 300.60,342.01 301.10,342.04 301.60,342.07 302.10,342.11 302.60,342.15 303.10,342.19 303.60,342.24 304.10,342.30 304.60,342.36 305.10,342.43 305.60,342.50 306.10,342.59 306.60,342.68 307.10,342.79 307.60,342.91 308.10,343.04 308.60,343.19 309.10,343.36 309.60,343.55 310.10,343.76 310.60,343.99 311.10,344.25 311.60,344.54 312.10,344.86 312.60,345.22 313.10,345.62 313.60,346.06 314.10,346.56 314.60,347.11 315.10,347.72 315.60,348.40 316.10,349.16 316.60,349.99 317.10,350.92 317.60,351.94 318.10,353.06 318.60,354.30 319.10,355.67 319.60,357.16 320.10,358.80 320.60,360.59 321.10,362.54 321.60,364.66 322.10,366.96 322.60,369.44 323.10,372.11 323.60,374.97 324.10,378.03 324.60,381.28 325.10,384.72 325.60,388.34 326.10,392.13 326.60,396.08 327.10,400.18 327.60,404.40 328.10,408.72 328.60,413.12 329.10,417.56 329.60,422.03 330.10,426.50 330.60,430.93 331.10,435.30 331.60,439.58 332.10,443.76 332.60,447.80 333.10,451.69 333.60,455.41 334.10,458.96 334.60,462.32 335.10,465.50 335.60,468.47 336.10,471.26 336.60,473.85 337.10,476.26 337.60,478.49 338.10,480.54 338.60,482.42 339.10,484.15 339.60,485.73 340.10,487.17 340.60,488.49 341.10,489.68 341.60,490.76 342.10,491.74 342.60,492.63 343.10,493.43 343.60,494.16 344.10,494.81 344.60,495.40 345.10,495.92 345.60,496.40 346.10,496.83 346.60,497.21 347.10,497.55 347.60,497.86 348.10,498.14 348.60,498.39 349.10,498.61 349.60,498.81 350.10,498.99 350.60,499.15 351.10,499.29 351.60,499.42 352.10,499.53 352.60,499.64 353.10,499.73 353.60,499.81 354.10,499.88 354.60,499.95 355.10,500.01 355.60,500.06 356.10,500.11 356.60,500.15 357.10,500.19 357.60,500.22 358.10,500.25 358.60,500.28 359.10,500.30 359.60,500.32 360.10,500.34 360.60,500.36 361.10,500.37 361.60,500.39 362.10,500.40 362.60,500.41 363.10,500.42 363.60,500.43 364.10,500.44 364.60,500.44 365.10,500.45 365.60,500.45 366.10,500.46 366.60,500.46 367.10,500.47 367.60,500.47 368.10,500.47 368.60,500.48 369.10,500.48 369.60,500.48 370.10,500.48 370.60,500.48 371.10,500.49 371.60,500.49 372.10,500.49 372.60,500.49 373.10,500.49 373.60,500.49 374.10,500.49 374.60,500.49 375.10,500.49 375.60,500.50 376.10,500.50 376.60,500.50 377.10,500.50 377.60,500.50 378.10,500.50 378.60,500.50 379.10,500.50 379.60,500.50 380.10,500.50 380.60,500.50 381.10,500.50 381.60,500.50 382.10,500.50 382.60,500.50 383.10,500.50 383.60,500.50 384.10,500.50 384.60,500.50 385.10,500.50 385.60,500.50 386.10,500.50 386.60,500.50 387.10,500.50 387.60,500.50 388.10,500.50 388.60,500.50 389.10,500.50 389.60,500.50 390.10,500.50 390.60,500.50" fill="none" stroke="#ffc000" stroke-width="1.75" stroke-linecap="butt" stroke-linejoin="round"/>
<path d="M145.2 347.3L148.7 354.2H141.7Z" fill="#00ad50"/>
<path d="M166.1 416.5L169.6 423.4H162.6Z" fill="#00ad50"/>
<path d="M179.6 458.0L183.1 464.9H176.1Z" fill="#00ad50"/>
<path d="M200.7 472.3L204.2 479.2H197.2Z" fill="#00ad50"/>
<path d="M214.7 471.5L218.2 478.4H211.2Z" fill="#00ad50"/>
<path d="M235.1 475.3L238.6 482.2H231.6Z" fill="#00ad50"/>
<path d="M248.8 473.3L252.3 480.2H245.3Z" fill="#00ad50"/>
<rect x="233.1" y="331.9" width="4.4" height="4.4" fill="#e2661b" stroke="#cc5c18" stroke-width="0.6"/>
<rect x="246.9" y="347.9" width="4.4" height="4.4" fill="#e2661b" stroke="#cc5c18" stroke-width="0.6"/>
<rect x="268.0" y="340.3" width="4.4" height="4.4" fill="#e2661b" stroke="#cc5c18" stroke-width="0.6"/>
<rect x="284.3" y="331.9" width="4.4" height="4.4" fill="#e2661b" stroke="#cc5c18" stroke-width="0.6"/>
<rect x="301.4" y="338.1" width="4.4" height="4.4" fill="#e2661b" stroke="#cc5c18" stroke-width="0.6"/>
<rect x="317.8" y="360.6" width="4.4" height="4.4" fill="#e2661b" stroke="#cc5c18" stroke-width="0.6"/>
<rect x="334.2" y="466.4" width="4.4" height="4.4" fill="#e2661b" stroke="#cc5c18" stroke-width="0.6"/>
<rect x="351.3" y="489.7" width="4.4" height="4.4" fill="#e2661b" stroke="#cc5c18" stroke-width="0.6"/>
<rect x="367.6" y="490.4" width="4.4" height="4.4" fill="#e2661b" stroke="#cc5c18" stroke-width="0.6"/>
<rect x="384.3" y="491.2" width="4.4" height="4.4" fill="#e2661b" stroke="#cc5c18" stroke-width="0.6"/>
<text x="193.4" y="295.9" font-size="13.8" text-anchor="start" fill="#000000" stroke="#000000" stroke-width="0.25" font-weight="normal" textLength="40.1" lengthAdjust="spacingAndGlyphs">HCMV</text>
<text x="72.8" y="291.5" font-size="16.2" text-anchor="start" fill="#000000" stroke="#000000" stroke-width="0.25" font-weight="bold" textLength="10.4" lengthAdjust="spacingAndGlyphs">B</text>
<text x="199.5" y="545.4" font-size="12.7" text-anchor="start" fill="#000000" stroke="#000000" stroke-width="0.25" font-weight="bold" textLength="30.2" lengthAdjust="spacingAndGlyphs">QRS7</text>
<text transform="translate(15.5 417.2) rotate(-90)" font-size="11" text-anchor="middle" fill="#00b050" stroke="#00b050" stroke-width="0.2" textLength="156.8" lengthAdjust="spacingAndGlyphs">Viral replication [GFP %DMSO]</text>
<text transform="translate(30.6 417.2) rotate(-90)" font-size="11" text-anchor="middle" fill="#ed7d31" stroke="#ed7d31" stroke-width="0.2" textLength="130.7" lengthAdjust="spacingAndGlyphs">Cell viability (NR %DMSO)</text>
<rect x="392.7" y="373.0" width="151.5" height="56.1" fill="#e9ebf5"/>
<path d="M392.7 391.7H544.2M392.7 410.4H544.2M434.5 373.0V429.1" stroke="#ffffff" stroke-width="1" fill="none"/>
<text x="402.6" y="388.3" font-size="11.5" fill="#000000" stroke="#000000" stroke-width="0.1"><tspan textLength="13.2" lengthAdjust="spacingAndGlyphs">EC</tspan><tspan dy="3.7" font-size="8" textLength="8.5" lengthAdjust="spacingAndGlyphs">50</tspan></text>
<text x="402.6" y="407.1" font-size="11.5" fill="#000000" stroke="#000000" stroke-width="0.1"><tspan textLength="13.2" lengthAdjust="spacingAndGlyphs">CC</tspan><tspan dy="3.7" font-size="8" textLength="8.5" lengthAdjust="spacingAndGlyphs">50</tspan></text>
<text x="413.2" y="426.4" font-size="11.5" text-anchor="middle" fill="#000000" stroke="#000000" stroke-width="0.25" font-weight="normal" textLength="9.2" lengthAdjust="spacingAndGlyphs">SI</text>
<text x="489.4" y="388.3" font-size="11.5" text-anchor="middle" fill="#000000" stroke="#000000" stroke-width="0.25" font-weight="normal" textLength="75.8" lengthAdjust="spacingAndGlyphs">0.05 ± 0.01 nM</text>
<text x="443.7" y="407.1" font-size="11.5" fill="#000000" stroke="#000000" stroke-width="0.1"><tspan textLength="11.4" lengthAdjust="spacingAndGlyphs">10</tspan><tspan dy="-4.2" font-size="6.6" textLength="3.6" lengthAdjust="spacingAndGlyphs">3</tspan><tspan dy="4.2" textLength="76.2" lengthAdjust="spacingAndGlyphs"> x 2.1 ± 0.3 nM</tspan></text>
<text x="489.4" y="426.4" font-size="11.5" text-anchor="middle" fill="#000000" stroke="#000000" stroke-width="0.25" font-weight="normal" textLength="33.2" lengthAdjust="spacingAndGlyphs">42,779</text>
<line x1="77.3" y1="736.0" x2="391.0" y2="736.0" stroke="#dddddd" stroke-width="1"/>
<line x1="77.3" y1="696.6" x2="391.0" y2="696.6" stroke="#dddddd" stroke-width="1"/>
<line x1="77.3" y1="657.3" x2="391.0" y2="657.3" stroke="#dddddd" stroke-width="1"/>
<line x1="77.3" y1="617.9" x2="391.0" y2="617.9" stroke="#dddddd" stroke-width="1"/>
<line x1="77.3" y1="578.6" x2="391.0" y2="578.6" stroke="#dddddd" stroke-width="1"/>
<line x1="146.3" y1="578.6" x2="146.3" y2="775.3" stroke="#dddddd" stroke-width="1"/>
<line x1="215.3" y1="578.6" x2="215.3" y2="775.3" stroke="#dddddd" stroke-width="1"/>
<line x1="284.4" y1="578.6" x2="284.4" y2="775.3" stroke="#dddddd" stroke-width="1"/>
<line x1="353.4" y1="578.6" x2="353.4" y2="775.3" stroke="#dddddd" stroke-width="1"/>
<line x1="77.3" y1="578.6" x2="77.3" y2="779.3" stroke="#6a6a6a" stroke-width="0.9"/>
<line x1="73.3" y1="775.3" x2="391.0" y2="775.3" stroke="#6a6a6a" stroke-width="0.9"/>
<line x1="73.3" y1="736.0" x2="77.3" y2="736.0" stroke="#6a6a6a" stroke-width="0.9"/>
<line x1="73.3" y1="696.6" x2="77.3" y2="696.6" stroke="#6a6a6a" stroke-width="0.9"/>
<line x1="73.3" y1="657.3" x2="77.3" y2="657.3" stroke="#6a6a6a" stroke-width="0.9"/>
<line x1="73.3" y1="617.9" x2="77.3" y2="617.9" stroke="#6a6a6a" stroke-width="0.9"/>
<line x1="73.3" y1="578.6" x2="77.3" y2="578.6" stroke="#6a6a6a" stroke-width="0.9"/>
<line x1="146.3" y1="775.3" x2="146.3" y2="779.3" stroke="#6a6a6a" stroke-width="0.9"/>
<line x1="215.3" y1="775.3" x2="215.3" y2="779.3" stroke="#6a6a6a" stroke-width="0.9"/>
<line x1="284.4" y1="775.3" x2="284.4" y2="779.3" stroke="#6a6a6a" stroke-width="0.9"/>
<line x1="353.4" y1="775.3" x2="353.4" y2="779.3" stroke="#6a6a6a" stroke-width="0.9"/>
<text x="65.2" y="778.8" font-size="11.1" text-anchor="end" fill="#000000" stroke="#000000" stroke-width="0.25" font-weight="normal" textLength="15.2" lengthAdjust="spacingAndGlyphs">0%</text>
<text x="65.2" y="739.5" font-size="11.1" text-anchor="end" fill="#000000" stroke="#000000" stroke-width="0.25" font-weight="normal" textLength="21.0" lengthAdjust="spacingAndGlyphs">25%</text>
<text x="65.2" y="700.1" font-size="11.1" text-anchor="end" fill="#000000" stroke="#000000" stroke-width="0.25" font-weight="normal" textLength="21.0" lengthAdjust="spacingAndGlyphs">50%</text>
<text x="65.2" y="660.8" font-size="11.1" text-anchor="end" fill="#000000" stroke="#000000" stroke-width="0.25" font-weight="normal" textLength="21.0" lengthAdjust="spacingAndGlyphs">75%</text>
<text x="65.2" y="621.4" font-size="11.1" text-anchor="end" fill="#000000" stroke="#000000" stroke-width="0.25" font-weight="normal" textLength="26.9" lengthAdjust="spacingAndGlyphs">100%</text>
<text x="65.2" y="582.1" font-size="11.1" text-anchor="end" fill="#000000" stroke="#000000" stroke-width="0.25" font-weight="normal" textLength="26.9" lengthAdjust="spacingAndGlyphs">125%</text>
<text x="77.0" y="796.6" font-size="10.8" text-anchor="middle" fill="#000000" stroke="#000000" stroke-width="0.25" font-weight="normal" textLength="52.7" lengthAdjust="spacingAndGlyphs">0.0000001</text>
<text x="146.0" y="796.6" font-size="10.8" text-anchor="middle" fill="#000000" stroke="#000000" stroke-width="0.25" font-weight="normal" textLength="40.0" lengthAdjust="spacingAndGlyphs">0.00001</text>
<text x="215.0" y="796.6" font-size="10.8" text-anchor="middle" fill="#000000" stroke="#000000" stroke-width="0.25" font-weight="normal" textLength="27.6" lengthAdjust="spacingAndGlyphs">0.001</text>
<text x="284.1" y="796.6" font-size="10.8" text-anchor="middle" fill="#000000" stroke="#000000" stroke-width="0.25" font-weight="normal" textLength="15.0" lengthAdjust="spacingAndGlyphs">0.1</text>
<text x="353.1" y="796.6" font-size="10.8" text-anchor="middle" fill="#000000" stroke="#000000" stroke-width="0.25" font-weight="normal" textLength="11.3" lengthAdjust="spacingAndGlyphs">10</text>
<text x="369.4" y="796.6" font-size="10.8" text-anchor="start" fill="#000000" stroke="#000000" stroke-width="0.25" font-weight="normal" textLength="23.6" lengthAdjust="spacingAndGlyphs">[µM]</text>
<path d="M146.5 591.5V647.2M144.3 591.5h4.4M144.3 647.2h4.4" stroke="#5c5c5c" stroke-width="0.9" fill="none"/>
<path d="M167.1 637.0V662.7M164.9 637.0h4.4M164.9 662.7h4.4" stroke="#5c5c5c" stroke-width="0.9" fill="none"/>
<path d="M180.9 698.9V711.3M178.7 698.9h4.4M178.7 711.3h4.4" stroke="#5c5c5c" stroke-width="0.9" fill="none"/>
<path d="M201.5 743.4V749.0M199.3 743.4h4.4M199.3 749.0h4.4" stroke="#5c5c5c" stroke-width="0.9" fill="none"/>
<path d="M235.6 748.5V756.4M233.4 748.5h4.4M233.4 756.4h4.4" stroke="#5c5c5c" stroke-width="0.9" fill="none"/>
<path d="M249.3 749.2V755.4M247.1 749.2h4.4M247.1 755.4h4.4" stroke="#5c5c5c" stroke-width="0.9" fill="none"/>
<path d="M235.6 606.1V631.9M233.4 606.1h4.4M233.4 631.9h4.4" stroke="#5c5c5c" stroke-width="0.9" fill="none"/>
<path d="M249.5 613.7V633.0M247.3 613.7h4.4M247.3 633.0h4.4" stroke="#5c5c5c" stroke-width="0.9" fill="none"/>
<path d="M270.5 624.3V642.1M268.3 624.3h4.4M268.3 642.1h4.4" stroke="#5c5c5c" stroke-width="0.9" fill="none"/>
<path d="M286.5 614.1V648.3M284.3 614.1h4.4M284.3 648.3h4.4" stroke="#5c5c5c" stroke-width="0.9" fill="none"/>
<path d="M303.6 634.1V653.7M301.4 634.1h4.4M301.4 653.7h4.4" stroke="#5c5c5c" stroke-width="0.9" fill="none"/>
<path d="M320.0 591.9V628.3M317.8 591.9h4.4M317.8 628.3h4.4" stroke="#5c5c5c" stroke-width="0.9" fill="none"/>
<path d="M336.4 584.3V593.4M334.2 584.3h4.4M334.2 593.4h4.4" stroke="#5c5c5c" stroke-width="0.9" fill="none"/>
<polyline points="111.40,619.05 111.90,619.09 112.40,619.13 112.90,619.17 113.40,619.22 113.90,619.26 114.41,619.31 114.91,619.36 115.41,619.41 115.91,619.46 116.41,619.51 116.91,619.57 117.41,619.63 117.91,619.69 118.41,619.75 118.91,619.81 119.42,619.88 119.92,619.95 120.42,620.02 120.92,620.09 121.42,620.17 121.92,620.24 122.42,620.33 122.92,620.41 123.42,620.50 123.92,620.59 124.43,620.68 124.93,620.78 125.43,620.87 125.93,620.98 126.43,621.08 126.93,621.19 127.43,621.31 127.93,621.43 128.43,621.55 128.93,621.67 129.43,621.80 129.94,621.94 130.44,622.08 130.94,622.22 131.44,622.37 131.94,622.52 132.44,622.68 132.94,622.84 133.44,623.01 133.94,623.19 134.44,623.37 134.95,623.56 135.45,623.75 135.95,623.95 136.45,624.16 136.95,624.37 137.45,624.59 137.95,624.82 138.45,625.05 138.95,625.29 139.45,625.54 139.95,625.80 140.46,626.07 140.96,626.34 141.46,626.63 141.96,626.92 142.46,627.22 142.96,627.53 143.46,627.85 143.96,628.18 144.46,628.52 144.96,628.88 145.47,629.24 145.97,629.61 146.47,630.00 146.97,630.39 147.47,630.80 147.97,631.22 148.47,631.66 148.97,632.10 149.47,632.56 149.97,633.03 150.48,633.52 150.98,634.02 151.48,634.53 151.98,635.06 152.48,635.60 152.98,636.16 153.48,636.73 153.98,637.32 154.48,637.93 154.98,638.55 155.48,639.18 155.99,639.84 156.49,640.51 156.99,641.19 157.49,641.90 157.99,642.62 158.49,643.36 158.99,644.11 159.49,644.89 159.99,645.68 160.49,646.49 161.00,647.32 161.50,648.17 162.00,649.04 162.50,649.92 163.00,650.83 163.50,651.75 164.00,652.69 164.50,653.65 165.00,654.63 165.50,655.62 166.01,656.64 166.51,657.67 167.01,658.72 167.51,659.79 168.01,660.88 168.51,661.98 169.01,663.10 169.51,664.24 170.01,665.40 170.51,666.57 171.01,667.76 171.52,668.96 172.02,670.18 172.52,671.41 173.02,672.65 173.52,673.91 174.02,675.18 174.52,676.47 175.02,677.76 175.52,679.07 176.02,680.39 176.53,681.71 177.03,683.05 177.53,684.39 178.03,685.74 178.53,687.10 179.03,688.46 179.53,689.83 180.03,691.21 180.53,692.58 181.03,693.96 181.53,695.34 182.04,696.72 182.54,698.10 183.04,699.48 183.54,700.86 184.04,702.23 184.54,703.60 185.04,704.97 185.54,706.33 186.04,707.69 186.54,709.04 187.05,710.38 187.55,711.72 188.05,713.04 188.55,714.36 189.05,715.66 189.55,716.96 190.05,718.24 190.55,719.51 191.05,720.77 191.55,722.01 192.06,723.24 192.56,724.45 193.06,725.65 193.56,726.84 194.06,728.01 194.56,729.16 195.06,730.30 195.56,731.42 196.06,732.52 196.56,733.60 197.06,734.67 197.57,735.72 198.07,736.75 198.57,737.76 199.07,738.76 199.57,739.73 200.07,740.69 200.57,741.63 201.07,742.55 201.57,743.45 202.07,744.33 202.58,745.19 203.08,746.04 203.58,746.86 204.08,747.67 204.58,748.46 205.08,749.23 205.58,749.99 206.08,750.73 206.58,751.44 207.08,752.15 207.59,752.83 208.09,753.50 208.59,754.15 209.09,754.78 209.59,755.40 210.09,756.00 210.59,756.59 211.09,757.16 211.59,757.72 212.09,758.26 212.59,758.78 213.10,759.29 213.60,759.79 214.10,760.28 214.60,760.75 215.10,761.20 215.60,761.65 216.10,762.08 216.60,762.50 217.10,762.90 217.60,763.30 218.11,763.68 218.61,764.05 219.11,764.42 219.61,764.77 220.11,765.11 220.61,765.43 221.11,765.75 221.61,766.06 222.11,766.36 222.61,766.66 223.11,766.94 223.62,767.21 224.12,767.48 224.62,767.73 225.12,767.98 225.62,768.22 226.12,768.46 226.62,768.68 227.12,768.90 227.62,769.11 228.12,769.32 228.63,769.52 229.13,769.71 229.63,769.90 230.13,770.08 230.63,770.25 231.13,770.42 231.63,770.58 232.13,770.74 232.63,770.89 233.13,771.04 233.64,771.18 234.14,771.32 234.64,771.46 235.14,771.59 235.64,771.71 236.14,771.83 236.64,771.95 237.14,772.06 237.64,772.17 238.14,772.28 238.64,772.38 239.15,772.48 239.65,772.57 240.15,772.67 240.65,772.76 241.15,772.84 241.65,772.93 242.15,773.01 242.65,773.08 243.15,773.16 243.65,773.23 244.16,773.30 244.66,773.37 245.16,773.44 245.66,773.50 246.16,773.56 246.66,773.62 247.16,773.68 247.66,773.73 248.16,773.79 248.66,773.84 249.17,773.89 249.67,773.94 250.17,773.98 250.67,774.03 251.17,774.07 251.67,774.11 252.17,774.15 252.67,774.19 253.17,774.23 253.67,774.27 254.17,774.30 254.68,774.34 255.18,774.37 255.68,774.40 256.18,774.43 256.68,774.46 257.18,774.49 257.68,774.52 258.18,774.55 258.68,774.57 259.18,774.60 259.69,774.62 260.19,774.64 260.69,774.67 261.19,774.69 261.69,774.71 262.19,774.73 262.69,774.75 263.19,774.77 263.69,774.79 264.19,774.80 264.69,774.82 265.20,774.84 265.70,774.85 266.20,774.87 266.70,774.88 267.20,774.90 267.70,774.91 268.20,774.93 268.70,774.94 269.20,774.95 269.70,774.96 270.21,774.97 270.71,774.99 271.21,775.00 271.71,775.01 272.21,775.02 272.71,775.03 273.21,775.04 273.71,775.05 274.21,775.05 274.71,775.06 275.22,775.07 275.72,775.08 276.22,775.09 276.72,775.09 277.22,775.10 277.72,775.11 278.22,775.11 278.72,775.12 279.22,775.13 279.72,775.13 280.22,775.14 280.73,775.14 281.23,775.15 281.73,775.15 282.23,775.16 282.73,775.16 283.23,775.17 283.73,775.17 284.23,775.18 284.73,775.18 285.23,775.19 285.74,775.19 286.24,775.19 286.74,775.20 287.24,775.20 287.74,775.20 288.24,775.21 288.74,775.21 289.24,775.21 289.74,775.22 290.24,775.22 290.75,775.22 291.25,775.23 291.75,775.23 292.25,775.23 292.75,775.23 293.25,775.24 293.75,775.24 294.25,775.24 294.75,775.24 295.25,775.24 295.75,775.25 296.26,775.25 296.76,775.25 297.26,775.25 297.76,775.25 298.26,775.25 298.76,775.26 299.26,775.26 299.76,775.26 300.26,775.26 300.76,775.26 301.27,775.26 301.77,775.26 302.27,775.27 302.77,775.27 303.27,775.27 303.77,775.27 304.27,775.27 304.77,775.27 305.27,775.27 305.77,775.27 306.27,775.27 306.78,775.27 307.28,775.28 307.78,775.28 308.28,775.28 308.78,775.28 309.28,775.28 309.78,775.28 310.28,775.28 310.78,775.28 311.28,775.28 311.79,775.28 312.29,775.28 312.79,775.28 313.29,775.28 313.79,775.28 314.29,775.29 314.79,775.29 315.29,775.29 315.79,775.29 316.29,775.29 316.80,775.29 317.30,775.29 317.80,775.29 318.30,775.29 318.80,775.29 319.30,775.29" fill="none" stroke="#7fc93a" stroke-width="1.75" stroke-linecap="butt" stroke-linejoin="round"/>
<polyline points="166.90,617.94 167.40,617.94 167.90,617.94 168.40,617.94 168.90,617.94 169.40,617.94 169.90,617.94 170.40,617.94 170.90,617.94 171.40,617.94 171.90,617.94 172.40,617.94 172.91,617.94 173.41,617.94 173.91,617.94 174.41,617.94 174.91,617.94 175.41,617.94 175.91,617.94 176.41,617.94 176.91,617.94 177.41,617.94 177.91,617.94 178.41,617.94 178.91,617.94 179.41,617.94 179.91,617.94 180.41,617.94 180.91,617.94 181.41,617.94 181.91,617.94 182.41,617.94 182.91,617.94 183.41,617.94 183.92,617.94 184.42,617.94 184.92,617.94 185.42,617.94 185.92,617.94 186.42,617.94 186.92,617.94 187.42,617.94 187.92,617.94 188.42,617.94 188.92,617.94 189.42,617.94 189.92,617.94 190.42,617.94 190.92,617.94 191.42,617.94 191.92,617.94 192.42,617.94 192.92,617.94 193.42,617.94 193.92,617.94 194.42,617.94 194.93,617.94 195.43,617.94 195.93,617.94 196.43,617.94 196.93,617.94 197.43,617.94 197.93,617.94 198.43,617.94 198.93,617.94 199.43,617.94 199.93,617.94 200.43,617.94 200.93,617.94 201.43,617.94 201.93,617.94 202.43,617.94 202.93,617.94 203.43,617.94 203.93,617.94 204.43,617.94 204.93,617.94 205.43,617.94 205.93,617.94 206.44,617.94 206.94,617.94 207.44,617.94 207.94,617.94 208.44,617.94 208.94,617.94 209.44,617.94 209.94,617.94 210.44,617.94 210.94,617.94 211.44,617.94 211.94,617.94 212.44,617.94 212.94,617.94 213.44,617.94 213.94,617.94 214.44,617.94 214.94,617.94 215.44,617.94 215.94,617.94 216.44,617.94 216.94,617.94 217.45,617.94 217.95,617.94 218.45,617.94 218.95,617.94 219.45,617.94 219.95,617.94 220.45,617.94 220.95,617.94 221.45,617.94 221.95,617.94 222.45,617.94 222.95,617.94 223.45,617.94 223.95,617.94 224.45,617.94 224.95,617.94 225.45,617.94 225.95,617.94 226.45,617.94 226.95,617.94 227.45,617.94 227.95,617.94 228.46,617.94 228.96,617.94 229.46,617.94 229.96,617.94 230.46,617.94 230.96,617.94 231.46,617.94 231.96,617.94 232.46,617.94 232.96,617.94 233.46,617.94 233.96,617.94 234.46,617.94 234.96,617.94 235.46,617.94 235.96,617.94 236.46,617.94 236.96,617.94 237.46,617.94 237.96,617.94 238.46,617.94 238.96,617.94 239.46,617.94 239.97,617.94 240.47,617.94 240.97,617.94 241.47,617.94 241.97,617.94 242.47,617.94 242.97,617.94 243.47,617.94 243.97,617.94 244.47,617.94 244.97,617.94 245.47,617.94 245.97,617.94 246.47,617.94 246.97,617.94 247.47,617.94 247.97,617.94 248.47,617.94 248.97,617.94 249.47,617.94 249.97,617.94 250.47,617.94 250.98,617.94 251.48,617.94 251.98,617.94 252.48,617.94 252.98,617.94 253.48,617.94 253.98,617.94 254.48,617.94 254.98,617.94 255.48,617.94 255.98,617.94 256.48,617.94 256.98,617.94 257.48,617.94 257.98,617.94 258.48,617.94 258.98,617.94 259.48,617.94 259.98,617.94 260.48,617.94 260.98,617.94 261.48,617.94 261.99,617.94 262.49,617.94 262.99,617.94 263.49,617.94 263.99,617.94 264.49,617.94 264.99,617.94 265.49,617.94 265.99,617.94 266.49,617.94 266.99,617.94 267.49,617.94 267.99,617.94 268.49,617.94 268.99,617.94 269.49,617.94 269.99,617.94 270.49,617.94 270.99,617.94 271.49,617.94 271.99,617.94 272.49,617.94 272.99,617.94 273.50,617.94 274.00,617.94 274.50,617.94 275.00,617.94 275.50,617.94 276.00,617.94 276.50,617.94 277.00,617.94 277.50,617.94 278.00,617.94 278.50,617.94 279.00,617.94 279.50,617.94 280.00,617.94 280.50,617.94 281.00,617.94 281.50,617.94 282.00,617.94 282.50,617.94 283.00,617.94 283.50,617.94 284.00,617.94 284.51,617.94 285.01,617.94 285.51,617.94 286.01,617.94 286.51,617.94 287.01,617.94 287.51,617.94 288.01,617.94 288.51,617.94 289.01,617.94 289.51,617.94 290.01,617.94 290.51,617.94 291.01,617.94 291.51,617.94 292.01,617.94 292.51,617.94 293.01,617.94 293.51,617.94 294.01,617.94 294.51,617.94 295.01,617.94 295.51,617.94 296.02,617.94 296.52,617.94 297.02,617.94 297.52,617.94 298.02,617.94 298.52,617.94 299.02,617.94 299.52,617.94 300.02,617.94 300.52,617.94 301.02,617.94 301.52,617.94 302.02,617.94 302.52,617.94 303.02,617.94 303.52,617.94 304.02,617.94 304.52,617.94 305.02,617.94 305.52,617.94 306.02,617.94 306.52,617.94 307.03,617.94 307.53,617.94 308.03,617.94 308.53,617.94 309.03,617.94 309.53,617.94 310.03,617.94 310.53,617.94 311.03,617.94 311.53,617.94 312.03,617.94 312.53,617.94 313.03,617.94 313.53,617.94 314.03,617.94 314.53,617.94 315.03,617.94 315.53,617.94 316.03,617.94 316.53,617.94 317.03,617.94 317.53,617.94 318.04,617.94 318.54,617.94 319.04,617.94 319.54,617.94 320.04,617.94 320.54,617.94 321.04,617.94 321.54,617.94 322.04,617.94 322.54,617.94 323.04,617.94 323.54,617.94 324.04,617.94 324.54,617.94 325.04,617.95 325.54,617.95 326.04,617.95 326.54,617.95 327.04,617.95 327.54,617.96 328.04,617.96 328.54,617.97 329.04,617.97 329.55,617.98 330.05,617.99 330.55,618.01 331.05,618.02 331.55,618.05 332.05,618.07 332.55,618.11 333.05,618.15 333.55,618.21 334.05,618.28 334.55,618.37 335.05,618.48 335.55,618.62 336.05,618.80 336.55,619.02 337.05,619.30 337.55,619.66 338.05,620.11 338.55,620.67 339.05,621.37 339.55,622.25 340.05,623.34 340.56,624.70 341.06,626.39 341.56,628.46 342.06,631.00 342.56,634.09 343.06,637.80 343.56,642.23 344.06,647.42 344.56,653.44 345.06,660.27 345.56,667.88 346.06,676.16 346.56,684.96 347.06,694.07 347.56,703.25 348.06,712.25 348.56,720.84 349.06,728.84 349.56,736.11 350.06,742.58 350.56,748.23 351.06,753.07 351.57,757.17 352.07,760.60 352.57,763.43 353.07,765.75 353.57,767.65 354.07,769.18 354.57,770.42 355.07,771.41 355.57,772.20 356.07,772.84 356.57,773.35 357.07,773.75 357.57,774.07 358.07,774.32 358.57,774.53 359.07,774.69 359.57,774.81 360.07,774.92 360.57,775.00 361.07,775.06 361.57,775.11 362.07,775.15 362.57,775.18 363.08,775.21 363.58,775.22 364.08,775.24 364.58,775.25 365.08,775.26 365.58,775.27 366.08,775.28 366.58,775.28 367.08,775.29 367.58,775.29 368.08,775.29 368.58,775.29 369.08,775.29 369.58,775.30 370.08,775.30 370.58,775.30 371.08,775.30 371.58,775.30 372.08,775.30 372.58,775.30 373.08,775.30 373.58,775.30 374.09,775.30 374.59,775.30 375.09,775.30 375.59,775.30 376.09,775.30 376.59,775.30 377.09,775.30 377.59,775.30 378.09,775.30 378.59,775.30 379.09,775.30 379.59,775.30 380.09,775.30 380.59,775.30 381.09,775.30 381.59,775.30 382.09,775.30 382.59,775.30 383.09,775.30 383.59,775.30 384.09,775.30 384.59,775.30 385.10,775.30 385.60,775.30 386.10,775.30 386.60,775.30 387.10,775.30 387.60,775.30 388.10,775.30 388.60,775.30 389.10,775.30 389.60,775.30 390.10,775.30 390.60,775.30" fill="none" stroke="#ffc000" stroke-width="1.75" stroke-linecap="butt" stroke-linejoin="round"/>
<path d="M146.5 616.5L150.0 623.4H143.0Z" fill="#00ad50"/>
<path d="M167.1 647.0L170.6 653.9H163.6Z" fill="#00ad50"/>
<path d="M180.9 701.2L184.4 708.1H177.4Z" fill="#00ad50"/>
<path d="M201.5 742.7L205.0 749.6H198.0Z" fill="#00ad50"/>
<path d="M215.2 747.5L218.7 754.4H211.7Z" fill="#00ad50"/>
<path d="M235.6 748.8L239.1 755.7H232.1Z" fill="#00ad50"/>
<path d="M249.3 748.8L252.8 755.7H245.8Z" fill="#00ad50"/>
<rect x="233.4" y="617.1" width="4.4" height="4.4" fill="#e2661b" stroke="#cc5c18" stroke-width="0.6"/>
<rect x="247.3" y="621.4" width="4.4" height="4.4" fill="#e2661b" stroke="#cc5c18" stroke-width="0.6"/>
<rect x="268.3" y="631.3" width="4.4" height="4.4" fill="#e2661b" stroke="#cc5c18" stroke-width="0.6"/>
<rect x="284.3" y="629.1" width="4.4" height="4.4" fill="#e2661b" stroke="#cc5c18" stroke-width="0.6"/>
<rect x="301.4" y="641.8" width="4.4" height="4.4" fill="#e2661b" stroke="#cc5c18" stroke-width="0.6"/>
<rect x="317.8" y="608.4" width="4.4" height="4.4" fill="#e2661b" stroke="#cc5c18" stroke-width="0.6"/>
<rect x="334.2" y="587.6" width="4.4" height="4.4" fill="#e2661b" stroke="#cc5c18" stroke-width="0.6"/>
<rect x="350.9" y="763.6" width="4.4" height="4.4" fill="#e2661b" stroke="#cc5c18" stroke-width="0.6"/>
<rect x="367.3" y="765.1" width="4.4" height="4.4" fill="#e2661b" stroke="#cc5c18" stroke-width="0.6"/>
<rect x="384.0" y="764.7" width="4.4" height="4.4" fill="#e2661b" stroke="#cc5c18" stroke-width="0.6"/>
<text x="195.3" y="571.5" font-size="13.8" text-anchor="start" fill="#000000" stroke="#000000" stroke-width="0.25" font-weight="normal" textLength="40.1" lengthAdjust="spacingAndGlyphs">HCMV</text>
<text x="72.6" y="567.7" font-size="16.2" text-anchor="start" fill="#000000" stroke="#000000" stroke-width="0.25" font-weight="bold" textLength="10.4" lengthAdjust="spacingAndGlyphs">C</text>
<text x="201.8" y="821.2" font-size="12.7" text-anchor="start" fill="#000000" stroke="#000000" stroke-width="0.25" font-weight="bold" textLength="30.6" lengthAdjust="spacingAndGlyphs">QRS9</text>
<text transform="translate(17.5 694.1) rotate(-90)" font-size="11" text-anchor="middle" fill="#00b050" stroke="#00b050" stroke-width="0.2" textLength="156.8" lengthAdjust="spacingAndGlyphs">Viral replication [GFP %DMSO]</text>
<text transform="translate(32.6 694.1) rotate(-90)" font-size="11" text-anchor="middle" fill="#ed7d31" stroke="#ed7d31" stroke-width="0.2" textLength="130.7" lengthAdjust="spacingAndGlyphs">Cell viability (NR %DMSO)</text>
<rect x="394.0" y="649.9" width="150.6" height="56.1" fill="#e9ebf5"/>
<path d="M394.0 668.6H544.6M394.0 687.3H544.6M435.6 649.9V706.0" stroke="#ffffff" stroke-width="1" fill="none"/>
<text x="403.8" y="665.2" font-size="11.5" fill="#000000" stroke="#000000" stroke-width="0.1"><tspan textLength="13.2" lengthAdjust="spacingAndGlyphs">EC</tspan><tspan dy="3.7" font-size="8" textLength="8.5" lengthAdjust="spacingAndGlyphs">50</tspan></text>
<text x="403.8" y="684.0" font-size="11.5" fill="#000000" stroke="#000000" stroke-width="0.1"><tspan textLength="13.2" lengthAdjust="spacingAndGlyphs">CC</tspan><tspan dy="3.7" font-size="8" textLength="8.5" lengthAdjust="spacingAndGlyphs">50</tspan></text>
<text x="414.4" y="703.3" font-size="11.5" text-anchor="middle" fill="#000000" stroke="#000000" stroke-width="0.25" font-weight="normal" textLength="9.2" lengthAdjust="spacingAndGlyphs">SI</text>
<text x="490.1" y="665.2" font-size="11.5" text-anchor="middle" fill="#000000" stroke="#000000" stroke-width="0.25" font-weight="normal" textLength="75.8" lengthAdjust="spacingAndGlyphs">0.11 ± 0.03 nM</text>
<text x="444.4" y="684.0" font-size="11.5" fill="#000000" stroke="#000000" stroke-width="0.1"><tspan textLength="11.4" lengthAdjust="spacingAndGlyphs">10</tspan><tspan dy="-4.2" font-size="6.6" textLength="3.6" lengthAdjust="spacingAndGlyphs">3</tspan><tspan dy="4.2" textLength="76.2" lengthAdjust="spacingAndGlyphs"> x 6.9 ± 0.2 nM</tspan></text>
<text x="490.1" y="703.3" font-size="11.5" text-anchor="middle" fill="#000000" stroke="#000000" stroke-width="0.25" font-weight="normal" textLength="33.2" lengthAdjust="spacingAndGlyphs">61,234</text>
</svg>
</body></html>
